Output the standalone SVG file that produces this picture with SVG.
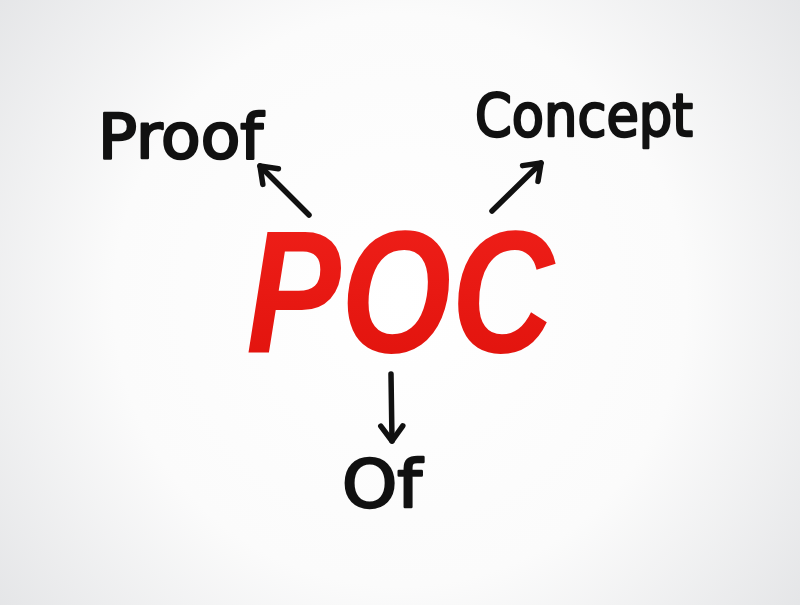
<svg xmlns="http://www.w3.org/2000/svg" width="800" height="605" viewBox="0 0 800 605">
  <defs>
    <radialGradient id="bg" cx="400" cy="300" r="520" gradientUnits="userSpaceOnUse">
      <stop offset="0" stop-color="#ffffff"/>
      <stop offset="0.55" stop-color="#fbfbfb"/>
      <stop offset="1" stop-color="#e3e4e6"/>
    </radialGradient>
    <linearGradient id="red" x1="0" y1="0" x2="0" y2="1">
      <stop offset="0" stop-color="#f0201a"/>
      <stop offset="1" stop-color="#e0120c"/>
    </linearGradient>
    <marker id="head" viewBox="-20 -20 40 40" refX="0" refY="0" markerWidth="40" markerHeight="40" markerUnits="userSpaceOnUse" orient="auto" overflow="visible">
      <path d="M -15 -11 L 0 0 L -15 11" fill="none" stroke="#111" stroke-width="5.5" stroke-linecap="round" stroke-linejoin="round"/>
    </marker>
    <style>
      .word { font-family: "DejaVu Sans", "Liberation Sans", sans-serif; font-weight: normal; fill: #111; stroke: #111; stroke-width: 2.5; stroke-linejoin: round; }
      .main { font-family: "Liberation Sans", "DejaVu Sans", sans-serif; font-weight: bold; font-style: italic; fill: url(#red); }
      .arrow { fill: none; stroke: #111; stroke-width: 5.5; stroke-linecap: round; marker-end: url(#head); }
    </style>
  </defs>
  <rect x="0" y="0" width="800" height="605" fill="url(#bg)"/>
  <g id="connectors">
    <path class="arrow" d="M 309 215 L 260 166"/>
    <path class="arrow" d="M 492 211 L 541 163"/>
    <path class="arrow" d="M 391 374 L 392 441"/>
  </g>
  <g id="node-poc">
    <text class="main" x="246" y="352" font-size="175" textLength="308" lengthAdjust="spacingAndGlyphs">POC</text>
  </g>
  <g id="node-proof">
    <text class="word" x="98" y="158" font-size="62" textLength="165" lengthAdjust="spacingAndGlyphs">Proof</text>
  </g>
  <g id="node-concept">
    <text class="word" x="475" y="136" font-size="58" textLength="218" lengthAdjust="spacingAndGlyphs">Concept</text>
  </g>
  <g id="node-of">
    <text class="word" x="342" y="507" font-size="65" textLength="80" lengthAdjust="spacingAndGlyphs">Of</text>
  </g>
</svg>
